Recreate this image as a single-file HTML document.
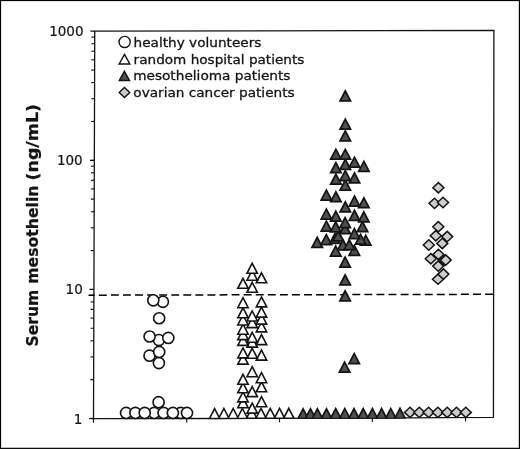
<!DOCTYPE html>
<html lang="en"><head><meta charset="utf-8"><title>Serum mesothelin</title>
<style>html,body{margin:0;padding:0;background:#fff}body{width:520px;height:449px;overflow:hidden}svg{display:block}text{font-family:"DejaVu Sans","Liberation Sans",sans-serif;fill:#141414}</style></head><body>
<svg width="520" height="449" viewBox="0 0 520 449">
<rect x="0" y="0" width="520" height="449" fill="#fff"/>
<rect x="0.5" y="0.5" width="518.9" height="447.85" fill="none" stroke="#000" stroke-width="1.2"/>
<g stroke="#141414" stroke-width="1.3" fill="none">
<path d="M94.75 31.15L493.9 30.3L493.45 417.3L440 417.65L375 418.05L275 418.35L215 418.5L93.5 418.55Z" stroke-linejoin="miter"/>
<line x1="89.10" y1="418.55" x2="93.50" y2="418.50"/>
<line x1="90.33" y1="379.68" x2="93.63" y2="379.63" stroke-width="1.15"/>
<line x1="90.40" y1="356.95" x2="93.70" y2="356.90" stroke-width="1.15"/>
<line x1="90.45" y1="340.81" x2="93.75" y2="340.76" stroke-width="1.15"/>
<line x1="90.49" y1="328.30" x2="93.79" y2="328.25" stroke-width="1.15"/>
<line x1="90.52" y1="318.08" x2="93.82" y2="318.03" stroke-width="1.15"/>
<line x1="90.55" y1="309.43" x2="93.85" y2="309.38" stroke-width="1.15"/>
<line x1="90.58" y1="301.95" x2="93.88" y2="301.90" stroke-width="1.15"/>
<line x1="90.60" y1="295.34" x2="93.90" y2="295.29" stroke-width="1.15"/>
<line x1="89.52" y1="289.43" x2="93.92" y2="289.38"/>
<line x1="90.74" y1="250.57" x2="94.04" y2="250.52" stroke-width="1.15"/>
<line x1="90.82" y1="227.83" x2="94.12" y2="227.78" stroke-width="1.15"/>
<line x1="90.87" y1="211.70" x2="94.17" y2="211.65" stroke-width="1.15"/>
<line x1="90.91" y1="199.18" x2="94.21" y2="199.13" stroke-width="1.15"/>
<line x1="90.94" y1="188.96" x2="94.24" y2="188.91" stroke-width="1.15"/>
<line x1="90.97" y1="180.32" x2="94.27" y2="180.27" stroke-width="1.15"/>
<line x1="90.99" y1="172.83" x2="94.29" y2="172.78" stroke-width="1.15"/>
<line x1="91.01" y1="166.22" x2="94.31" y2="166.17" stroke-width="1.15"/>
<line x1="89.93" y1="160.32" x2="94.33" y2="160.27"/>
<line x1="91.16" y1="121.45" x2="94.46" y2="121.40" stroke-width="1.15"/>
<line x1="91.23" y1="98.71" x2="94.53" y2="98.66" stroke-width="1.15"/>
<line x1="91.28" y1="82.58" x2="94.58" y2="82.53" stroke-width="1.15"/>
<line x1="91.32" y1="70.07" x2="94.62" y2="70.02" stroke-width="1.15"/>
<line x1="91.36" y1="59.84" x2="94.66" y2="59.79" stroke-width="1.15"/>
<line x1="91.39" y1="51.20" x2="94.69" y2="51.15" stroke-width="1.15"/>
<line x1="91.41" y1="43.71" x2="94.71" y2="43.66" stroke-width="1.15"/>
<line x1="91.43" y1="37.11" x2="94.73" y2="37.06" stroke-width="1.15"/>
<line x1="90.35" y1="31.20" x2="94.75" y2="31.15"/>
<line x1="93.5" y1="418.5" x2="93.48" y2="422.8" stroke-width="1.15"/>
<line x1="186.7" y1="418.51" x2="186.7" y2="422.41" stroke-width="1.15"/>
<line x1="279.5" y1="418.34" x2="279.5" y2="422.24" stroke-width="1.15"/>
<line x1="372.3" y1="418.06" x2="372.3" y2="421.96" stroke-width="1.15"/>
<line x1="465.5" y1="417.48" x2="465.5" y2="421.38" stroke-width="1.15"/>
</g>
<line x1="86.78" y1="295.17" x2="493.30" y2="294.3" stroke="#000" stroke-width="1.5" stroke-dasharray="7.9 4.17"/>
<rect x="84" y="292" width="4.5" height="6" fill="#fff"/>
<text x="83.5" y="35.65" font-size="13.5" text-anchor="end" stroke="#141414" stroke-width="0.2">1000</text>
<text x="82.7" y="165.47" font-size="13.5" text-anchor="end" stroke="#141414" stroke-width="0.2">100</text>
<text x="82.75" y="294.08" font-size="13.5" text-anchor="end" stroke="#141414" stroke-width="0.2">10</text>
<text x="82.3" y="423.80" font-size="13.5" text-anchor="end" stroke="#141414" stroke-width="0.2">1</text>
<g transform="translate(38.0 0) rotate(-90)" font-size="16.3" font-weight="bold" stroke="#141414" stroke-width="0.25">
<text class="yl" x="-346.50" y="0" textLength="56.80" lengthAdjust="spacingAndGlyphs">Serum</text>
<text class="yl" x="-283.70" y="0" textLength="98.10" lengthAdjust="spacingAndGlyphs">mesothelin</text>
<text class="yl" x="-180.50" y="0" textLength="76.50" lengthAdjust="spacingAndGlyphs">(ng/mL)</text>
</g>
<defs><clipPath id="pc"><path d="M90 20L500 20L500 417.95294667913936L493.45 417.95L440 418.29999999999995L375 418.7L275 419.0L215 419.15L93.5 419.2L90 419.2Z"/></clipPath></defs>
<g fill="#fff" stroke="#141414" stroke-width="1.6">
<circle cx="154.20" cy="412.90" r="5.55"/>
<circle cx="180.60" cy="412.90" r="5.55"/>
<circle cx="126.10" cy="412.90" r="5.55"/>
<circle cx="135.40" cy="412.90" r="5.55"/>
<circle cx="144.70" cy="412.90" r="5.55"/>
<circle cx="163.60" cy="412.90" r="5.55"/>
<circle cx="172.90" cy="412.90" r="5.55"/>
<circle cx="187.00" cy="412.90" r="5.55"/>
<circle cx="158.60" cy="402.20" r="5.55"/>
<circle cx="158.90" cy="363.10" r="5.55"/>
<circle cx="149.50" cy="355.70" r="5.55"/>
<circle cx="159.20" cy="351.90" r="5.55"/>
<circle cx="158.90" cy="340.10" r="5.55"/>
<circle cx="149.60" cy="336.50" r="5.55"/>
<circle cx="168.30" cy="337.90" r="5.55"/>
<circle cx="159.15" cy="318.25" r="5.55"/>
<circle cx="162.90" cy="301.80" r="5.55"/>
<circle cx="153.30" cy="300.35" r="5.55"/>
</g>
<g fill="#fff" stroke="#141414" stroke-width="1.6" stroke-linejoin="miter" clip-path="url(#pc)">
<path d="M214.6 408.6L219.8 418.6L209.4 418.6Z"/>
<path d="M223.9 408.5L229.1 418.5L218.7 418.5Z"/>
<path d="M233.2 408.5L238.3 418.5L228.0 418.5Z"/>
<path d="M242.4 408.5L247.6 418.5L237.2 418.5Z"/>
<path d="M251.7 408.4L256.9 418.4L246.5 418.4Z"/>
<path d="M261.0 408.4L266.2 418.4L255.8 418.4Z"/>
<path d="M270.2 408.4L275.4 418.4L265.1 418.4Z"/>
<path d="M279.5 408.4L284.7 418.4L274.3 418.4Z"/>
<path d="M288.8 408.3L294.0 418.3L283.6 418.3Z"/>
<path d="M252.2 403.1L257.4 413.1L247.0 413.1Z"/>
<path d="M243.0 397.8L248.2 407.8L237.8 407.8Z"/>
<path d="M261.5 396.7L266.7 406.7L256.3 406.7Z"/>
<path d="M243.0 391.9L248.2 401.9L237.8 401.9Z"/>
<path d="M252.2 386.6L257.4 396.6L247.0 396.6Z"/>
<path d="M243.0 382.8L248.2 392.8L237.8 392.8Z"/>
<path d="M261.5 381.8L266.7 391.8L256.3 391.8Z"/>
<path d="M243.0 374.3L248.2 384.3L237.8 384.3Z"/>
<path d="M261.5 372.7L266.7 382.7L256.3 382.7Z"/>
<path d="M252.2 366.7L257.4 376.7L247.0 376.7Z"/>
<path d="M243.0 354.1L248.2 364.1L237.8 364.1Z"/>
<path d="M261.5 350.1L266.7 360.1L256.3 360.1Z"/>
<path d="M252.2 348.3L257.4 358.3L247.0 358.3Z"/>
<path d="M243.0 347.9L248.2 357.9L237.8 357.9Z"/>
<path d="M252.2 337.1L257.4 347.1L247.0 347.1Z"/>
<path d="M243.0 335.4L248.2 345.4L237.8 345.4Z"/>
<path d="M261.5 334.6L266.7 344.6L256.3 344.6Z"/>
<path d="M252.2 332.3L257.4 342.3L247.0 342.3Z"/>
<path d="M243.0 329.6L248.2 339.6L237.8 339.6Z"/>
<path d="M243.0 324.2L248.2 334.2L237.8 334.2Z"/>
<path d="M261.5 321.9L266.7 331.9L256.3 331.9Z"/>
<path d="M252.2 317.6L257.4 327.6L247.0 327.6Z"/>
<path d="M243.0 315.0L248.2 325.0L237.8 325.0Z"/>
<path d="M261.5 314.1L266.7 324.1L256.3 324.1Z"/>
<path d="M252.2 311.0L257.4 321.0L247.0 321.0Z"/>
<path d="M243.0 307.8L248.2 317.8L237.8 317.8Z"/>
<path d="M261.5 307.1L266.7 317.1L256.3 317.1Z"/>
<path d="M243.0 297.7L248.2 307.7L237.8 307.7Z"/>
<path d="M261.5 296.9L266.7 306.9L256.3 306.9Z"/>
<path d="M252.2 282.3L257.4 292.3L247.0 292.3Z"/>
<path d="M243.0 278.3L248.2 288.3L237.8 288.3Z"/>
<path d="M261.5 272.8L266.7 282.8L256.3 282.8Z"/>
<path d="M252.2 270.2L257.4 280.2L247.0 280.2Z"/>
<path d="M252.2 263.3L257.4 273.3L247.0 273.3Z"/>
</g>
<g fill="#4f4f4f" stroke="#141414" stroke-width="1.75" stroke-linejoin="miter" clip-path="url(#pc)">
<path d="M303.1 408.8L308.3 418.7L297.9 418.7Z"/>
<path d="M310.5 408.8L315.7 418.7L305.3 418.7Z"/>
<path d="M317.4 408.8L322.6 418.7L312.2 418.7Z"/>
<path d="M326.5 408.8L331.7 418.7L321.3 418.7Z"/>
<path d="M335.7 408.7L340.9 418.6L330.5 418.6Z"/>
<path d="M344.8 408.7L350.0 418.6L339.6 418.6Z"/>
<path d="M354.0 408.7L359.2 418.6L348.8 418.6Z"/>
<path d="M363.2 408.6L368.4 418.5L358.0 418.5Z"/>
<path d="M372.4 408.6L377.6 418.5L367.2 418.5Z"/>
<path d="M381.6 408.6L386.8 418.5L376.4 418.5Z"/>
<path d="M390.8 408.6L396.0 418.5L385.6 418.5Z"/>
<path d="M400.0 408.5L405.2 418.4L394.8 418.4Z"/>
<path d="M344.6 362.1L349.8 372.0L339.4 372.0Z"/>
<path d="M354.2 353.7L359.4 363.6L349.0 363.6Z"/>
<path d="M345.1 291.0L350.3 300.9L339.9 300.9Z"/>
<path d="M345.1 275.0L350.3 284.9L339.9 284.9Z"/>
<path d="M345.1 257.1L350.3 267.0L339.9 267.0Z"/>
<path d="M335.7 246.1L340.9 256.0L330.5 256.0Z"/>
<path d="M354.3 245.4L359.5 255.3L349.1 255.3Z"/>
<path d="M343.0 239.9L348.2 249.8L337.8 249.8Z"/>
<path d="M349.3 239.8L354.5 249.7L344.1 249.7Z"/>
<path d="M317.2 237.5L322.4 247.4L312.0 247.4Z"/>
<path d="M365.7 235.3L370.9 245.2L360.5 245.2Z"/>
<path d="M326.3 234.6L331.5 244.5L321.1 244.5Z"/>
<path d="M360.6 234.3L365.8 244.2L355.4 244.2Z"/>
<path d="M335.0 233.5L340.2 243.4L329.8 243.4Z"/>
<path d="M338.2 231.0L343.4 240.9L333.0 240.9Z"/>
<path d="M354.4 228.6L359.6 238.5L349.2 238.5Z"/>
<path d="M345.1 223.7L350.3 233.6L339.9 233.6Z"/>
<path d="M335.7 222.0L340.9 231.9L330.5 231.9Z"/>
<path d="M362.5 221.7L367.7 231.6L357.3 231.6Z"/>
<path d="M326.4 221.1L331.6 231.0L321.2 231.0Z"/>
<path d="M345.1 217.7L350.3 227.6L339.9 227.6Z"/>
<path d="M363.8 211.9L369.0 221.8L358.6 221.8Z"/>
<path d="M335.8 211.1L341.0 221.0L330.6 221.0Z"/>
<path d="M354.5 210.5L359.7 220.4L349.3 220.4Z"/>
<path d="M326.4 209.1L331.6 219.0L321.2 219.0Z"/>
<path d="M345.3 202.0L350.5 211.9L340.1 211.9Z"/>
<path d="M363.9 197.8L369.1 207.7L358.7 207.7Z"/>
<path d="M354.5 196.2L359.7 206.1L349.3 206.1Z"/>
<path d="M335.9 191.8L341.1 201.7L330.7 201.7Z"/>
<path d="M326.4 190.1L331.6 200.0L321.2 200.0Z"/>
<path d="M345.3 180.2L350.5 190.1L340.1 190.1Z"/>
<path d="M335.9 174.1L341.1 184.0L330.7 184.0Z"/>
<path d="M354.5 173.0L359.7 182.9L349.3 182.9Z"/>
<path d="M345.3 170.6L350.5 180.5L340.1 180.5Z"/>
<path d="M335.9 162.6L341.1 172.5L330.7 172.5Z"/>
<path d="M363.9 161.4L369.1 171.3L358.7 171.3Z"/>
<path d="M345.3 159.4L350.5 169.3L340.1 169.3Z"/>
<path d="M354.5 157.3L359.7 167.2L349.3 167.2Z"/>
<path d="M335.9 149.3L341.1 159.2L330.7 159.2Z"/>
<path d="M345.3 149.3L350.5 159.2L340.1 159.2Z"/>
<path d="M345.3 130.9L350.5 140.8L340.1 140.8Z"/>
<path d="M345.3 119.1L350.5 129.0L340.1 129.0Z"/>
<path d="M345.3 91.0L350.5 100.9L340.1 100.9Z"/>
</g>
<g fill="#cdcdcd" stroke="#141414" stroke-width="1.5" stroke-linejoin="miter" clip-path="url(#pc)">
<path d="M410.0 407.2L415.5 412.4L410.0 417.5L404.5 412.4Z"/>
<path d="M419.3 407.2L424.8 412.4L419.3 417.5L413.8 412.4Z"/>
<path d="M428.6 407.2L434.1 412.4L428.6 417.5L423.1 412.4Z"/>
<path d="M437.9 407.2L443.4 412.4L437.9 417.5L432.4 412.4Z"/>
<path d="M447.2 407.2L452.7 412.4L447.2 417.5L441.7 412.4Z"/>
<path d="M456.5 407.2L462.0 412.4L456.5 417.5L451.0 412.4Z"/>
<path d="M465.8 407.2L471.3 412.4L465.8 417.5L460.3 412.4Z"/>
<path d="M438.0 274.1L443.5 279.2L438.0 284.3L432.5 279.2Z"/>
<path d="M443.4 268.9L448.9 274.1L443.4 279.2L437.9 274.1Z"/>
<path d="M438.2 260.9L443.7 266.1L438.2 271.2L432.7 266.1Z"/>
<path d="M444.7 255.3L450.2 260.5L444.7 265.6L439.2 260.5Z"/>
<path d="M445.7 254.9L451.2 260.1L445.7 265.2L440.2 260.1Z"/>
<path d="M430.8 253.6L436.3 258.8L430.8 263.9L425.3 258.8Z"/>
<path d="M438.4 249.2L443.9 254.4L438.4 259.6L432.9 254.4Z"/>
<path d="M428.8 239.8L434.3 245.0L428.8 250.2L423.3 245.0Z"/>
<path d="M442.3 238.2L447.8 243.4L442.3 248.6L436.8 243.4Z"/>
<path d="M447.2 231.4L452.7 236.6L447.2 241.8L441.7 236.6Z"/>
<path d="M435.8 230.6L441.3 235.7L435.8 240.9L430.3 235.7Z"/>
<path d="M438.3 221.6L443.8 226.7L438.3 231.9L432.8 226.7Z"/>
<path d="M434.5 198.2L440.0 203.3L434.5 208.5L429.0 203.3Z"/>
<path d="M443.0 197.3L448.5 202.5L443.0 207.7L437.5 202.5Z"/>
<path d="M438.4 182.6L443.9 187.7L438.4 192.9L432.9 187.7Z"/>
</g>
<g stroke="#141414" stroke-width="1.45">
<circle cx="124.65" cy="41.95" r="5.6" fill="#fff" stroke-width="1.4"/>
<path d="M124.5 54.4L129.8 63.95L119.2 63.95Z" fill="#fff"/>
<path d="M124.4 71.3L129.5 80.55L119.3 80.55Z" fill="#4f4f4f"/>
<path d="M124.45 87.4L129.7 92.4L124.45 97.4L119.2 92.4Z" fill="#cdcdcd"/>
</g>
<text x="133.6" y="46.60" font-size="13.0" stroke="#141414" stroke-width="0.3" textLength="127.8" lengthAdjust="spacingAndGlyphs">healthy volunteers</text>
<text x="133.6" y="64.30" font-size="13.0" stroke="#141414" stroke-width="0.3" textLength="170.8" lengthAdjust="spacingAndGlyphs">random hospital patients</text>
<text x="133.2" y="80.35" font-size="13.0" stroke="#141414" stroke-width="0.3" textLength="157.3" lengthAdjust="spacingAndGlyphs">mesothelioma patients</text>
<text x="133.3" y="97.10" font-size="13.0" stroke="#141414" stroke-width="0.3" textLength="161.3" lengthAdjust="spacingAndGlyphs">ovarian cancer patients</text>
</svg></body></html>
